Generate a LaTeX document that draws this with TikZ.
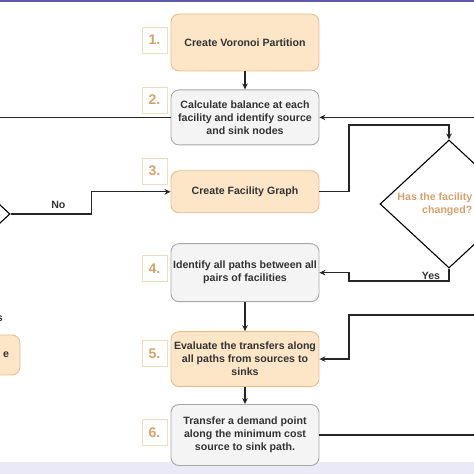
\documentclass[tikz,border=0pt]{standalone}
\usepackage{fontspec}
\setmainfont{Liberation Sans}
\usetikzlibrary{arrows.meta,shapes,positioning}
\definecolor{boxorange}{HTML}{FDE5C8}
\definecolor{lineorange}{HTML}{E6C08C}
\definecolor{boxgray}{HTML}{F4F4F4}
\definecolor{linegray}{HTML}{A8A8A8}
\definecolor{numtext}{HTML}{D8A06A}
\definecolor{numline}{HTML}{F0DCC2}
\definecolor{darktext}{HTML}{333333}
\definecolor{barpurple}{HTML}{5C58A6}
\definecolor{bandlavender}{HTML}{E9E9F8}
\tikzset{
  %Define standard arrow tip
    >={Stealth[length=6pt,width=5.5pt]},
  %define style for boxes
  stepbox/.style={
    rectangle,
    rounded corners=8pt,
    line width=0.9pt,
    inner xsep=1pt,
    minimum width=148pt,
    align=center,
    text=darktext,
    font=\fontsize{10.6}{13}\selectfont\bfseries},
  orangebox/.style={
    stepbox,
    draw=lineorange,
    fill=boxorange},
  graybox/.style={
    stepbox,
    draw=linegray,
    fill=boxgray},
  %define style for step numbers
  steplabel/.style={
    rectangle,
    draw=numline,
    line width=0.8pt,
    minimum width=25pt,
    minimum height=26pt,
    inner sep=0pt,
    text=numtext,
    font=\fontsize{14}{16}\selectfont\bfseries},
  %define style for decisions
  checkshape/.style={
    diamond,
    draw=black,
    line width=1.1pt,
    minimum width=138pt,
    minimum height=128pt,
    inner sep=0pt},
  edgelabel/.style={
    text=darktext,
    inner sep=1pt,
    font=\fontsize{10.6}{13}\selectfont\bfseries},
  %define style for arrows
  myarrow/.style={
    ->,
    line width=1.2pt,
    draw=black!85}
}
\begin{document}
\begin{tikzpicture}[x=1pt, y=1pt]
\useasboundingbox (0,0) rectangle (474,474);
%frame bands
\fill[barpurple] (0,472) rectangle (474,474);
\fill[bandlavender] (0,0) rectangle (474,12);

%page edges
\coordinate (pageL) at (0,0);
\coordinate (pageR) at (474,0);

%nodes
\node[orangebox, minimum height=57pt] (voronoi) at (245,431.5) {Create Voronoi Partition};

\node[graybox, minimum height=55pt, below=18pt of voronoi] (balance)
     {Calculate balance at each\\ facility and identify source\\ and sink nodes};
\node[orangebox, minimum height=42pt, below=25pt of balance] (graph)
     {Create Facility Graph};
\node[graybox, minimum height=58pt, below=30pt of graph] (paths)
     {Identify all paths between all\\ pairs of facilities};
\node[orangebox, minimum height=55pt, below=29pt of paths] (evaluate)
     {Evaluate the transfers along\\ all paths from sources to\\ sinks};
\node[graybox, minimum height=61pt, below=17pt of evaluate] (transfer)
     {Transfer a demand point\\ along the minimum cost\\ source to sink path.};

%step numbers
\foreach \n/\y in {1/434, 2/374, 3/303, 4/205.5, 5/120.5, 6/41.5}
  \node[steplabel] (num\n) at (154.5,\y) {\n.};

%decisions
\node[checkshape] (check) at (449,270) {};
\node[edgelabel, anchor=east, align=right, text=numtext] (checktext) at (473.5,270)
     {Has the facility\\ changed?};
\node[checkshape] (leftcheck) at (-59,260) {};

%box cut off at the left
\node[orangebox, text width=78pt, minimum width=100pt, minimum height=40pt, align=right] (leftbox) at (-30,119) {e};
\node[edgelabel, anchor=east] (lefttext) at (4,155) {s};

%bend points
\coordinate (upturn) at (349,349);
\coordinate (yesturn) at (349,193);
\coordinate (downturn) at (349,159);
\coordinate (inB) at (474,159);

%arrows
\draw[myarrow] (voronoi.south) -- (balance.north);
\draw[myarrow] (paths.south) -- (evaluate.north);
\draw[myarrow] (evaluate.south) -- (transfer.north);
\draw[myarrow] (balance.east -| pageR) -- (balance.east);
\draw[myarrow, -] (balance.west) -- (balance.west -| pageL);
\draw[myarrow] (leftcheck.east) -- node[edgelabel, above=4pt, pos=0.59] {No} ++(81,0) |- (graph.west);
\draw[myarrow] (graph.east) -| (upturn) -| (check.north);
\draw[myarrow] (check.south) |- node[edgelabel, above, pos=0.59] {Yes} (yesturn) |- (paths.east);
\draw[myarrow] (inB) -- (downturn) |- (evaluate.east);
\draw[myarrow, -] (transfer.east) -- (transfer.east -| pageR);

\end{tikzpicture}
\end{document}
